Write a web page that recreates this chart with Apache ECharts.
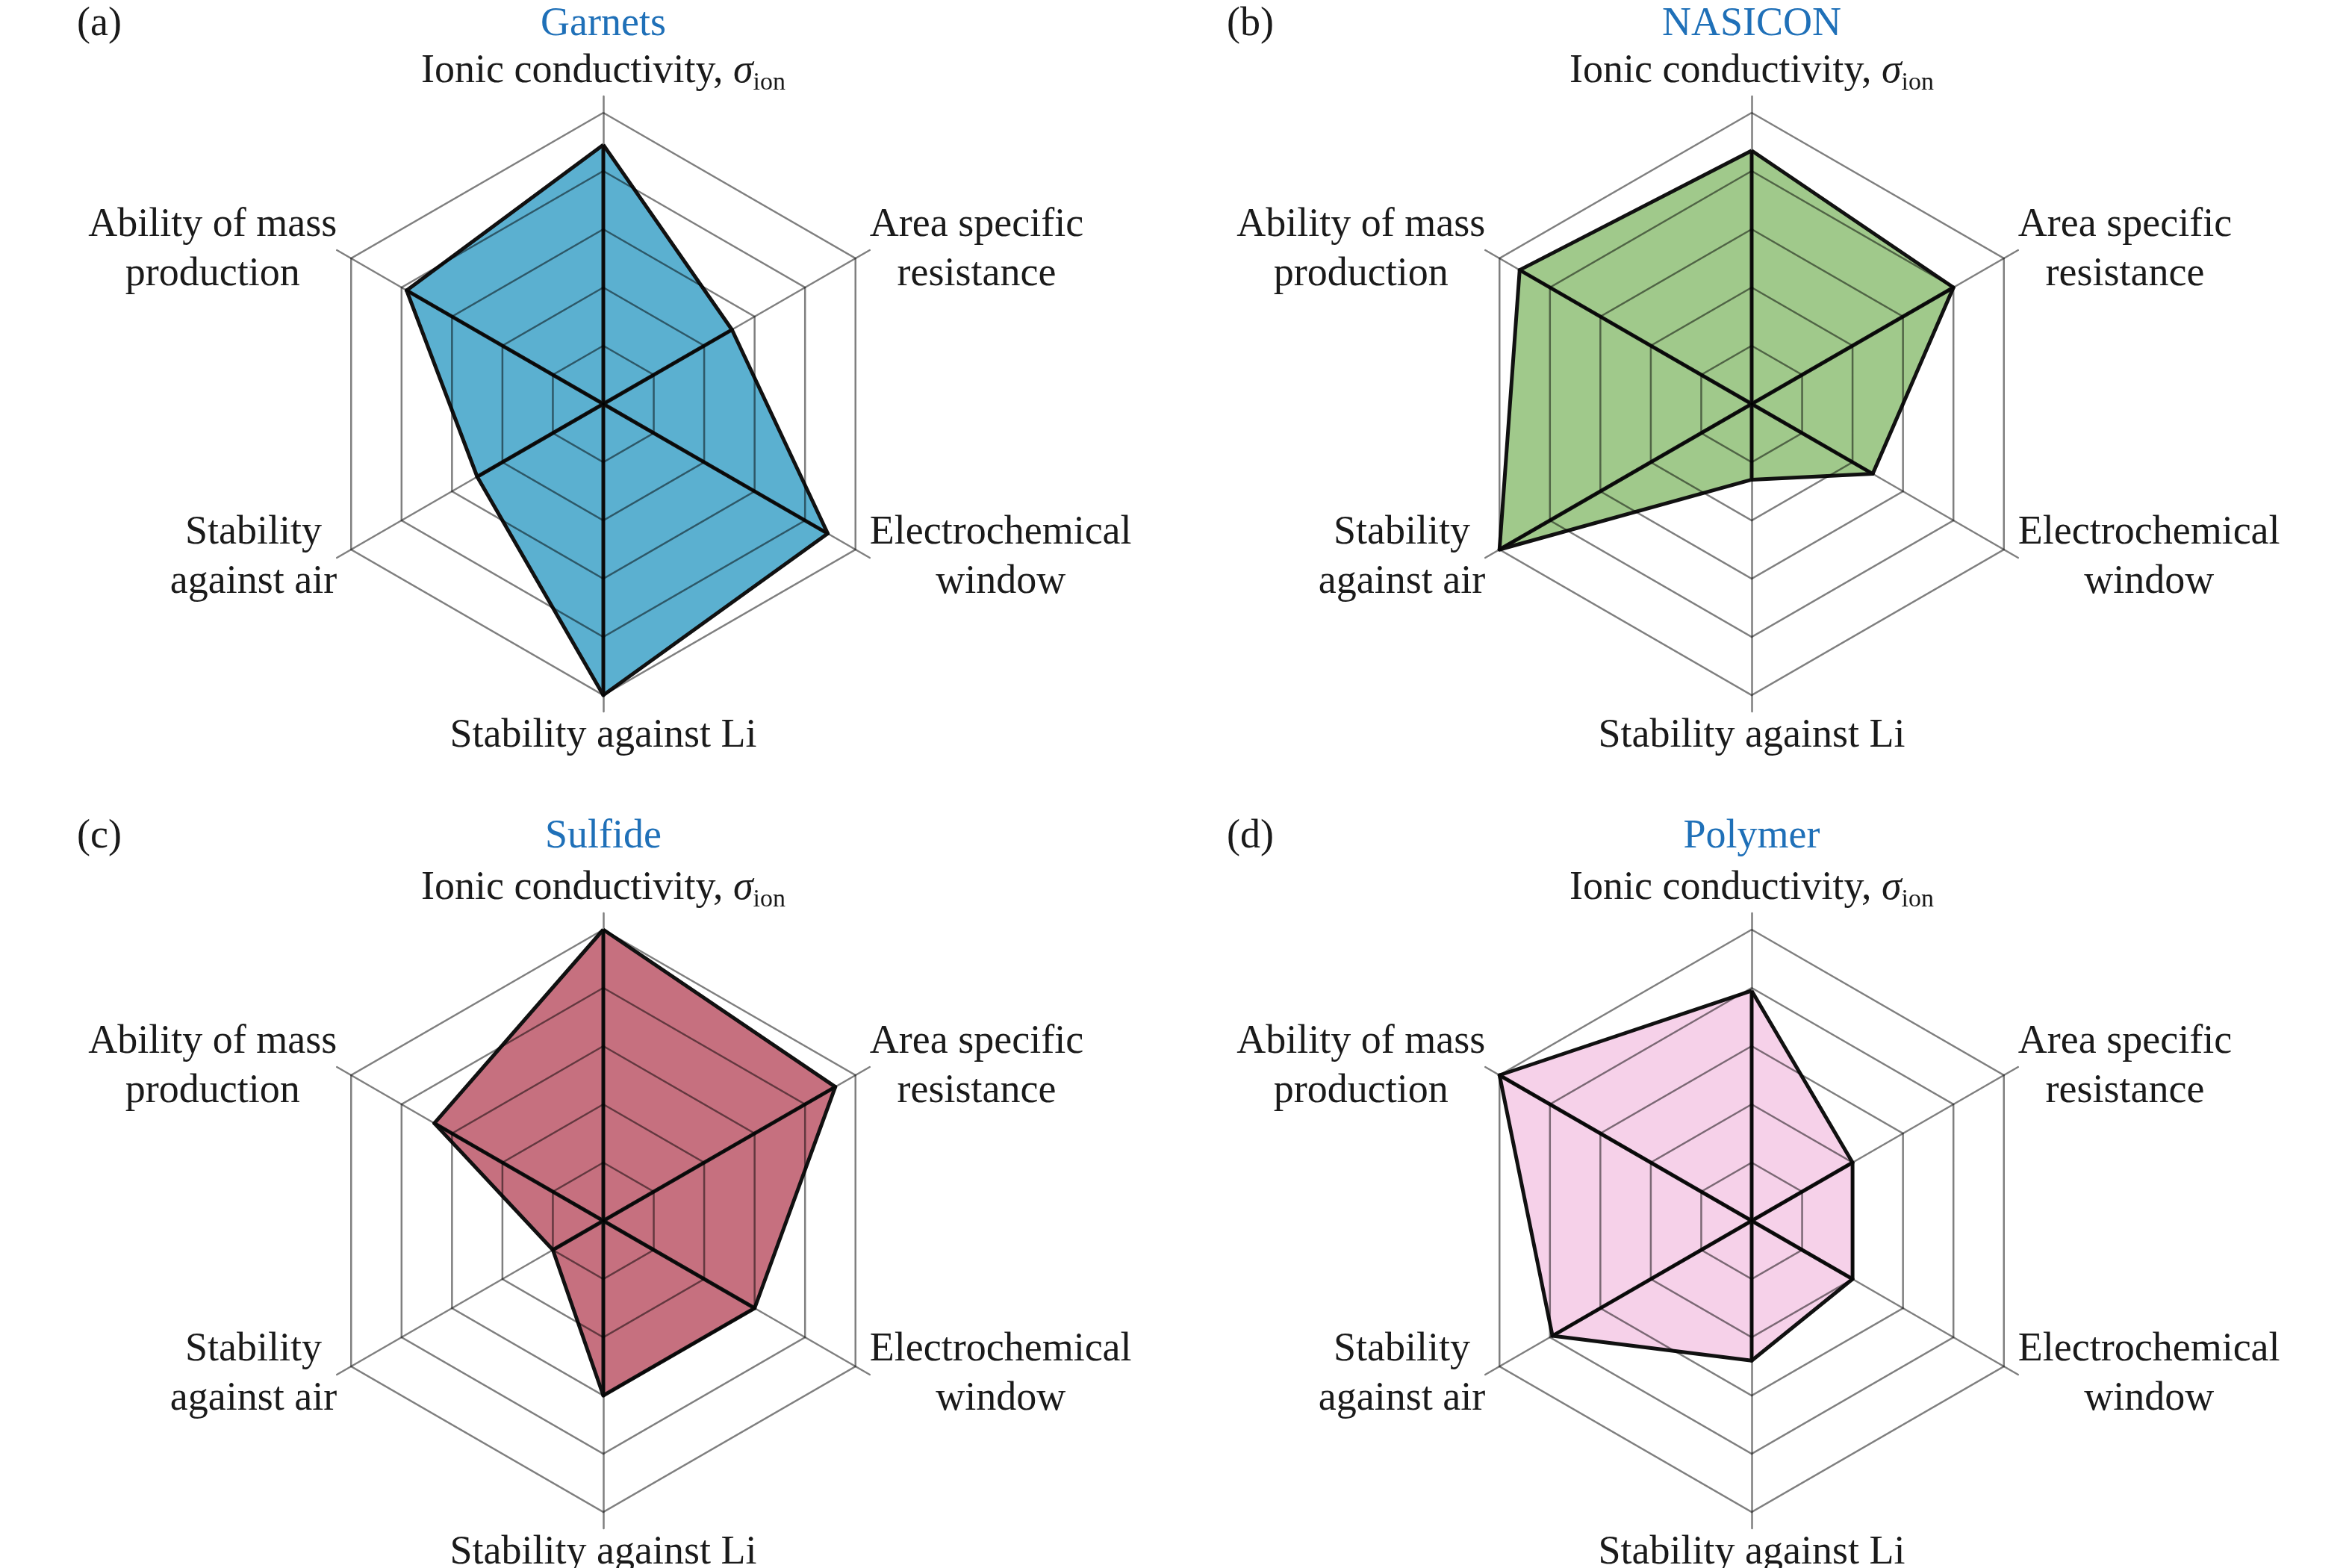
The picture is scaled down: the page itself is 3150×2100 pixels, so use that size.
<!DOCTYPE html>
<html><head><meta charset="utf-8">
<script src="https://cdn.jsdelivr.net/npm/echarts@6/dist/echarts.min.js"></script>
<style>html,body{margin:0;padding:0;background:#fff}#c{width:3150px;height:2100px}</style>
</head><body><div id="c"></div>
<script>
// Indicator order (ECharts lays them out counter-clockwise from the top)
const indicators = ['Ionic conductivity', 'Ability of mass production', 'Stability against air',
                    'Stability against Li', 'Electrochemical window', 'Area specific resistance'];
const panelNames = ['Garnets', 'NASICON', 'Sulfide', 'Polymer'];
const panelTags = ['(a)', '(b)', '(c)', '(d)'];
// values in indicator order
const garnets = [0.89, 0.78, 0.50, 1.00, 0.89, 0.51];
const nasicon = [0.87, 0.92, 1.00, 0.26, 0.48, 0.80];
const sulfide = [1.00, 0.67, 0.20, 0.60, 0.60, 0.92];
const polymer = [0.79, 1.00, 0.79, 0.48, 0.40, 0.40];
const panelValues = [garnets, nasicon, sulfide, polymer];
const fills = ['#5bb0d0', '#a0c98b', '#c6707f', '#f6d1e9'];

const FONT = '"Liberation Serif", "Times New Roman", serif';
const FS = 54;
const centers = [[808, 541], [2346, 541], [808, 1635], [2346, 1635]];
const R = 390;

const labelText = {
  'Ionic conductivity': '{n|Ionic conductivity, }{s|σ}{sub|ion}',
  'Ability of mass production': '{c|Ability of mass}\n{c|production}',
  'Stability against air': '{c|Stability}\n{c|against air}',
  'Stability against Li': '{c|Stability against Li}',
  'Electrochemical window': '{c|Electrochemical}\n{c|window}',
  'Area specific resistance': '{c|Area specific}\n{c|resistance}'
};
const rich = {
  c: {fontFamily: FONT, fontSize: FS, lineHeight: 66, color: '#1a1a1a', align: 'center'},
  n: {fontFamily: FONT, fontSize: FS, lineHeight: 66, color: '#1a1a1a'},
  s: {fontFamily: FONT, fontSize: FS, lineHeight: 66, color: '#1a1a1a', fontStyle: 'italic'},
  sub: {fontFamily: FONT, fontSize: 34, lineHeight: 40, color: '#1a1a1a', padding: [30, 0, 0, 0]}
};
const LINE = 'rgba(0,0,0,0.5)';

const radars = [];
centers.forEach(c => {
  // main grid with names
  radars.push({
    center: c, radius: R, startAngle: 90, shape: 'polygon', splitNumber: 5, z: 3,
    indicator: indicators.map(n => ({name: n, min: 0, max: 1})),
    axisName: {formatter: v => labelText[v], rich: rich, fontFamily: FONT, fontSize: FS, color: '#1a1a1a'},
    axisNameGap: 22,
    splitLine: {lineStyle: {color: LINE, width: 2.5}},
    splitArea: {show: false},
    axisLine: {show: false},
    axisTick: {show: false}, axisLabel: {show: false}
  });
});
centers.forEach(c => {
  // spokes slightly overshooting the outer ring
  radars.push({
    center: c, radius: R + 22, startAngle: 90, shape: 'polygon', splitNumber: 5, z: 3,
    indicator: indicators.map(n => ({name: n, min: 0, max: 1})),
    axisName: {show: false},
    splitLine: {show: false}, splitArea: {show: false},
    axisLine: {lineStyle: {color: LINE, width: 2.5}},
    axisTick: {show: false}, axisLabel: {show: false}
  });
});

const series = [];
panelValues.forEach((vals, i) => {
  // filled area
  series.push({
    type: 'radar', radarIndex: i, symbol: 'none', silent: true, z: 1,
    data: [{value: vals, lineStyle: {width: 0, opacity: 0}, areaStyle: {color: fills[i], opacity: 1}}]
  });
  // outline on top of the fill
  series.push({
    type: 'radar', radarIndex: i, symbol: 'none', silent: true, z: 2,
    data: [{value: vals, lineStyle: {color: '#111', width: 5}}]
  });
  // bold spokes from centre to each value
  series.push({
    type: 'radar', radarIndex: i, symbol: 'none', silent: true, z: 2,
    data: vals.map((v, k) => ({value: vals.map((_, j) => j === k ? v : 0), lineStyle: {color: '#111', width: 5}}))
  });
});

const titles = [];
panelNames.forEach((t, i) => {
  const top = i < 2 ? 6 : 1094;
  titles.push({text: t, left: centers[i][0], top: top, textAlign: 'center', padding: 0,
    textStyle: {color: '#1f70b8', fontFamily: FONT, fontSize: FS, fontWeight: 'normal'}});
  titles.push({text: panelTags[i], left: i % 2 === 0 ? 103 : 1643, top: top, padding: 0,
    textStyle: {color: '#1a1a1a', fontFamily: FONT, fontSize: FS, fontWeight: 'normal'}});
});

const chart = echarts.init(document.getElementById('c'));
chart.setOption({backgroundColor: '#fff', animation: false, title: titles, radar: radars, series: series});
</script></body></html>
